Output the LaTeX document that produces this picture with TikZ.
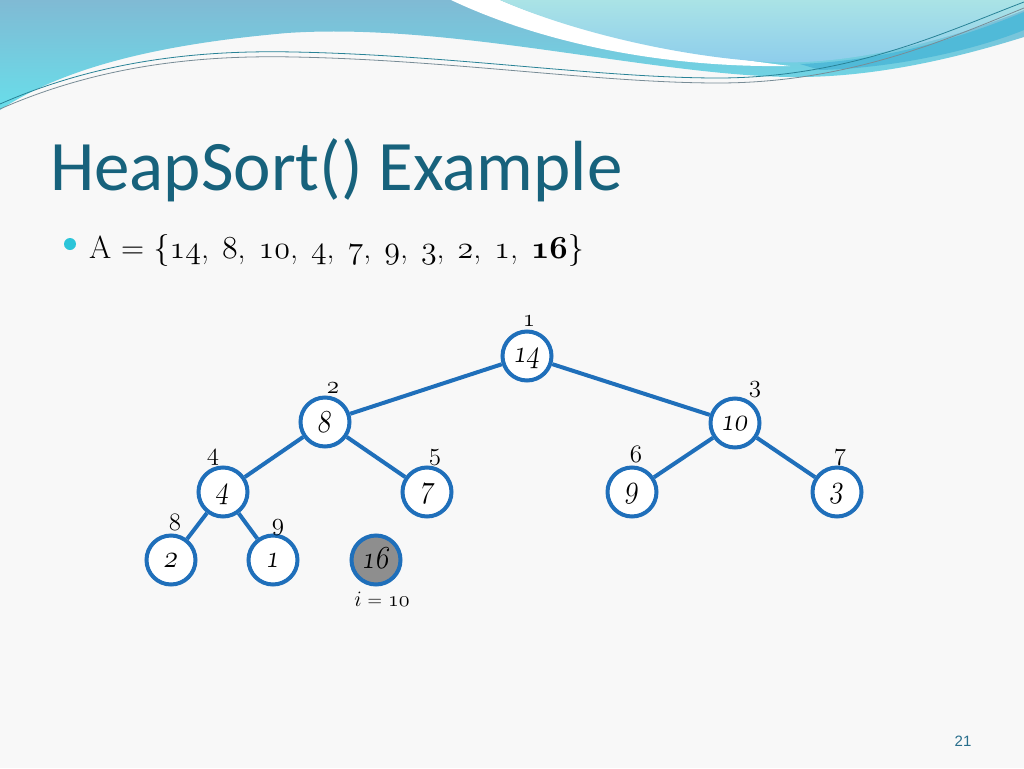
\RequirePackage{fix-cm}
\documentclass[tikz,border=0pt]{standalone}
\usepackage{fontspec}
\newfontfamily\carlito{Carlito}
\newfontfamily\lsans{Liberation Sans}
\newcommand\osf[1]{{\fontencoding{OML}\fontfamily{cmm}\fontseries{m}\fontshape{it}\selectfont #1}}
\newcommand\osfs[2]{{\fontencoding{OML}\fontfamily{cmm}\fontseries{m}\fontshape{it}\fontsize{#1}{#1}\selectfont #2}}
\newcommand\osfbs[2]{{\fontencoding{OML}\fontfamily{cmm}\fontseries{b}\fontshape{it}\fontsize{#1}{#1}\selectfont #2}}
\newcommand\sep{,\hskip 13pt}
\definecolor{nodeblue}{RGB}{31,111,186}
\definecolor{titlecol}{RGB}{23,98,124}
\definecolor{bulletcol}{RGB}{44,197,217}
\definecolor{bgcol}{RGB}{248,248,248}
\definecolor{waveAa}{RGB}{128,186,212}
\definecolor{waveAb}{RGB}{104,222,234}
\definecolor{waveBa}{RGB}{170,227,230}
\definecolor{waveBb}{RGB}{140,204,236}
\definecolor{stripecol}{RGB}{80,186,216}
\definecolor{linecol}{RGB}{40,130,150}
\definecolor{linecolb}{RGB}{120,140,150}
\definecolor{pagecol}{RGB}{40,110,140}
\definecolor{graynode}{RGB}{142,142,142}
\tikzset{
  hn/.style={circle, draw=nodeblue, line width=4pt, fill=white, minimum size=49pt, inner sep=0pt},
  tedge/.style={draw=nodeblue, line width=4pt},
  idx/.style={font=\fontsize{25}{28}\selectfont, anchor=base, inner sep=0pt},
  val/.style={font=\fontsize{32}{36}\selectfont, anchor=base, inner sep=0pt, xscale=0.85, xslant=0.18, transform shape},
}
\begin{document}
\begin{tikzpicture}[x=1pt,y=-1pt]
\useasboundingbox (0,0) rectangle (1024,768);
\fill[bgcol] (0,0) rectangle (1024,768);
% header waves
\path[top color=waveAa, bottom color=waveAb]
  (0,0) -- (1024,0) -- (1024,37)
  .. controls (950,60) and (870,78) .. (790,77)
  .. controls (650,75) and (450,22) .. (287,33)
  .. controls (150,45) and (60,70) .. (0,110) -- cycle;
\fill[white] (451,0) .. controls (540,42) and (660,68) .. (790,66)
  .. controls (700,55) and (580,35) .. (500,0) -- cycle;
\path[top color=waveBa, bottom color=waveBb]
  (500,0) .. controls (580,35) and (690,58) .. (770,62)
  .. controls (850,66) and (950,40) .. (1024,10) -- (1024,0) -- cycle;
\fill[stripecol] (800,64) .. controls (900,60) and (980,30) .. (1024,12)
  -- (1024,30) .. controls (980,48) and (900,68) .. (820,70) -- cycle;
\draw[linecol, line width=0.8pt] (0,104) .. controls (100,60) and (200,50) .. (294,52)
  .. controls (450,55) and (600,78) .. (718,78) .. controls (850,78) and (950,30) .. (1024,2);
\draw[linecolb, line width=0.8pt] (0,109) .. controls (100,65) and (200,55) .. (294,57)
  .. controls (450,60) and (600,83) .. (718,83) .. controls (850,83) and (950,38) .. (1024,8);
% title
\node[anchor=base west, inner sep=0pt, text=titlecol, font=\carlito\fontsize{71}{84}\selectfont] (title) at (50,190) {HeapSort() Example};
% bullet
\node[circle, fill=bulletcol, minimum size=12pt, inner sep=0pt] (bul) at (70,244) {};
\node[anchor=base west, inner sep=0pt, font=\fontsize{32}{38}\selectfont] (arr) at (89,258)
  {A = \{\osfs{32}{14}\sep\osfs{32}{8}\sep\osfs{32}{10}\sep\osfs{32}{4}\sep\osfs{32}{7}\sep\osfs{32}{9}\sep\osfs{32}{3}\sep\osfs{32}{2}\sep\osfs{32}{1}\sep\osfbs{32}{16}\}};
% tree nodes
\node[hn] (n1) at (527,356) {};
\node[hn] (n2) at (325,422) {};
\node[hn] (n3) at (735,423) {};
\node[hn] (n4) at (223,492) {};
\node[hn] (n5) at (427,492) {};
\node[hn] (n6) at (632,492) {};
\node[hn] (n7) at (837,492) {};
\node[hn] (n8) at (171,560) {};
\node[hn] (n9) at (273,560) {};
\node[hn, fill=graynode] (n10) at (376,560) {};
% edges
\draw[tedge] (n1) -- (n2);
\draw[tedge] (n1) -- (n3);
\draw[tedge] (n2) -- (n4);
\draw[tedge] (n2) -- (n5);
\draw[tedge] (n3) -- (n6);
\draw[tedge] (n3) -- (n7);
\draw[tedge] (n4) -- (n8);
\draw[tedge] (n4) -- (n9);
% values
\node[val, yshift=-6pt] (v1) at (n1) {\osf{14}};
\node[val, yshift=-10pt] (v2) at (n2) {\osf{8}};
\node[val, yshift=-7pt] (v3) at (n3) {\osf{10}};
\node[val, yshift=-6pt] (v4) at (n4) {\osf{4}};
\node[val, yshift=-5pt] (v5) at (n5) {\osf{7}};
\node[val, yshift=-5pt] (v6) at (n6) {\osf{9}};
\node[val, yshift=-5pt] (v7) at (n7) {\osf{3}};
\node[val, yshift=-7pt] (v8) at (n8) {\osf{2}};
\node[val, yshift=-7pt] (v9) at (n9) {\osf{1}};
\node[val, yshift=-8pt] (v10) at (n10) {\osf{16}};
% indices
\node[idx] (i1) at (529,326) {\osf{1}};
\node[idx] (i2) at (333,393) {\osf{2}};
\node[idx] (i3) at (755,392) {\osf{3}};
\node[idx] (i4) at (213,460) {\osf{4}};
\node[idx] (i5) at (435,460) {\osf{5}};
\node[idx] (i6) at (636,462) {\osf{6}};
\node[idx] (i7) at (840,460) {\osf{7}};
\node[idx] (i8) at (175,530) {\osf{8}};
\node[idx] (i9) at (278,530) {\osf{9}};
\node[anchor=base, inner sep=0pt, font=\fontsize{20}{24}\selectfont] (ilab) at (382,606) {\osfs{22}{i} = \osfs{22}{10}};
% page number
\node[inner sep=0pt, text=pagecol, font=\lsans\fontsize{15}{18}\selectfont] (pg) at (963,741) {21};
\end{tikzpicture}
\end{document}
